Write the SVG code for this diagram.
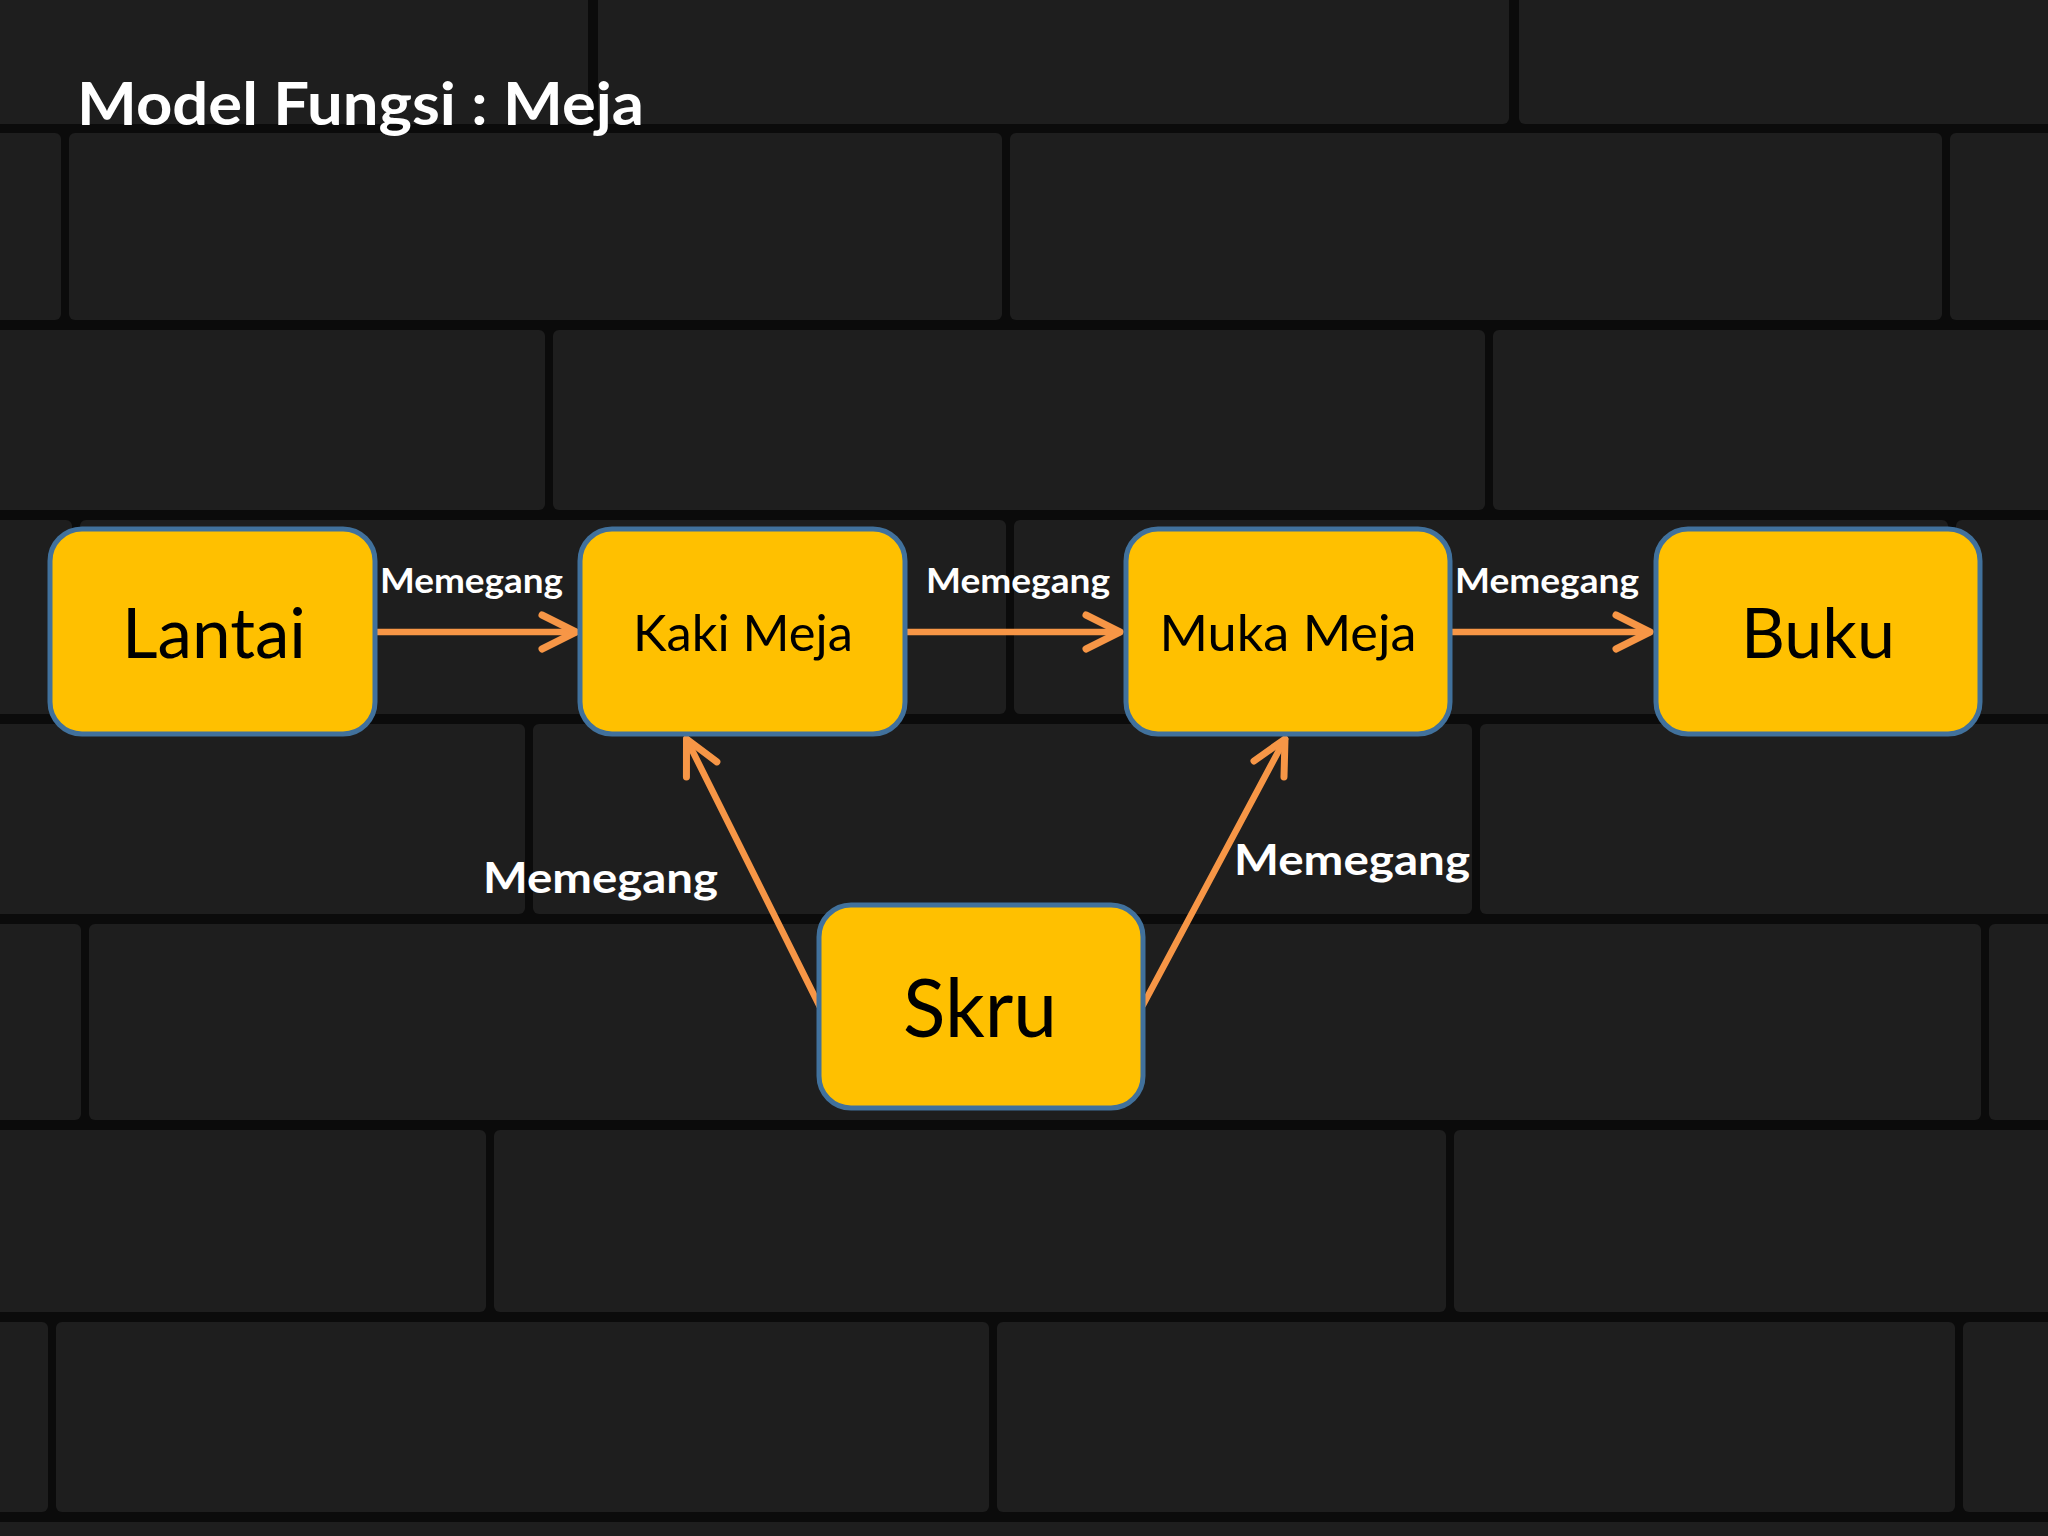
<svg xmlns="http://www.w3.org/2000/svg" width="2048" height="1536" viewBox="0 0 2048 1536">
<style>
.brick{fill:#1e1e1e;}
.node rect{fill:#FFC000;stroke:#41719C;stroke-width:5;}
.ntext{font-family:Lato,"Open Sans","Liberation Sans",sans-serif;fill:#000000;text-anchor:middle;}
.lbl{font-family:Lato,"Open Sans","Liberation Sans",sans-serif;font-weight:bold;fill:#FFFFFF;font-size:35px;}
.big{font-size:42px;}
.edge{stroke:#F79646;stroke-width:6.5;fill:none;stroke-linecap:round;}
</style>
<defs>
<marker id="arr" viewBox="-44 -24 50 48" refX="0" refY="0" markerWidth="50" markerHeight="48" markerUnits="userSpaceOnUse" orient="auto">
<path d="M-34,-17 L0,0 L-34,17" fill="none" stroke="#F79646" stroke-width="7" stroke-linecap="round" stroke-linejoin="round"/>
</marker>
</defs>
<rect x="0" y="0" width="2048" height="1536" fill="#0b0b0b"/>
<g id="bricks">
<rect class="brick" x="-10" y="-10" width="598" height="134" rx="6"/>
<rect class="brick" x="598" y="-10" width="911" height="134" rx="6"/>
<rect class="brick" x="1519" y="-10" width="540" height="134" rx="6"/>
<rect class="brick" x="-10" y="133" width="71" height="187" rx="6"/>
<rect class="brick" x="69" y="133" width="933" height="187" rx="6"/>
<rect class="brick" x="1010" y="133" width="932" height="187" rx="6"/>
<rect class="brick" x="1950" y="133" width="110" height="187" rx="6"/>
<rect class="brick" x="-10" y="330" width="555" height="180" rx="6"/>
<rect class="brick" x="553" y="330" width="932" height="180" rx="6"/>
<rect class="brick" x="1493" y="330" width="567" height="180" rx="6"/>
<rect class="brick" x="-10" y="520" width="82" height="194" rx="6"/>
<rect class="brick" x="80" y="520" width="926" height="194" rx="6"/>
<rect class="brick" x="1014" y="520" width="934" height="194" rx="6"/>
<rect class="brick" x="1956" y="520" width="102" height="194" rx="6"/>
<rect class="brick" x="-10" y="724" width="535" height="190" rx="6"/>
<rect class="brick" x="533" y="724" width="939" height="190" rx="6"/>
<rect class="brick" x="1480" y="724" width="582" height="190" rx="6"/>
<rect class="brick" x="-10" y="924" width="91" height="196" rx="6"/>
<rect class="brick" x="89" y="924" width="1892" height="196" rx="6"/>
<rect class="brick" x="1989" y="924" width="72" height="196" rx="6"/>
<rect class="brick" x="-10" y="1130" width="496" height="182" rx="6"/>
<rect class="brick" x="494" y="1130" width="952" height="182" rx="6"/>
<rect class="brick" x="1454" y="1130" width="607" height="182" rx="6"/>
<rect class="brick" x="-10" y="1322" width="58" height="190" rx="6"/>
<rect class="brick" x="56" y="1322" width="933" height="190" rx="6"/>
<rect class="brick" x="997" y="1322" width="958" height="190" rx="6"/>
<rect class="brick" x="1963" y="1322" width="97" height="190" rx="6"/>
<rect class="brick" x="-10" y="1522" width="2070" height="30" rx="6"/>
</g>
<text id="title" x="77" y="125" font-family="Lato,'Open Sans','Liberation Sans',sans-serif" font-weight="bold" font-size="59" fill="#FFFFFF" textLength="567" lengthAdjust="spacingAndGlyphs">Model Fungsi : Meja</text>
<g id="connectors">
<line class="edge" x1="377" y1="632" x2="576" y2="632" marker-end="url(#arr)"/>
<line class="edge" x1="907" y1="632" x2="1120" y2="632" marker-end="url(#arr)"/>
<line class="edge" x1="1450" y1="632" x2="1650" y2="632" marker-end="url(#arr)"/>
<line class="edge" x1="820" y1="1007" x2="686.5" y2="739" marker-end="url(#arr)"/>
<line class="edge" x1="1143" y1="1005" x2="1285" y2="739" marker-end="url(#arr)"/>
<text class="lbl" x="380" y="593" textLength="183" lengthAdjust="spacingAndGlyphs">Memegang</text>
<text class="lbl" x="926" y="593" textLength="184" lengthAdjust="spacingAndGlyphs">Memegang</text>
<text class="lbl" x="1455" y="593" textLength="184" lengthAdjust="spacingAndGlyphs">Memegang</text>
<text class="lbl big" x="483" y="893" textLength="235" lengthAdjust="spacingAndGlyphs">Memegang</text>
<text class="lbl big" x="1234" y="875" textLength="236" lengthAdjust="spacingAndGlyphs">Memegang</text>
</g>
<g id="node-lantai" class="node">
<rect x="50" y="529" width="325" height="205" rx="32"/>
<text class="ntext" x="214" y="658" font-size="70" textLength="184" lengthAdjust="spacingAndGlyphs">Lantai</text>
</g>
<g id="node-kaki-meja" class="node">
<rect x="580" y="529" width="325" height="205" rx="32"/>
<text class="ntext" x="743" y="651" font-size="50" textLength="220" lengthAdjust="spacingAndGlyphs">Kaki Meja</text>
</g>
<g id="node-muka-meja" class="node">
<rect x="1126" y="529" width="324" height="205" rx="32"/>
<text class="ntext" x="1288" y="651" font-size="50" textLength="257" lengthAdjust="spacingAndGlyphs">Muka Meja</text>
</g>
<g id="node-buku" class="node">
<rect x="1656" y="529" width="324" height="205" rx="32"/>
<text class="ntext" x="1818" y="658" font-size="70" textLength="154" lengthAdjust="spacingAndGlyphs">Buku</text>
</g>
<g id="node-skru" class="node">
<rect x="819" y="905" width="324" height="203" rx="32"/>
<text class="ntext" x="980" y="1037" font-size="82" textLength="154" lengthAdjust="spacingAndGlyphs">Skru</text>
</g>
</svg>
